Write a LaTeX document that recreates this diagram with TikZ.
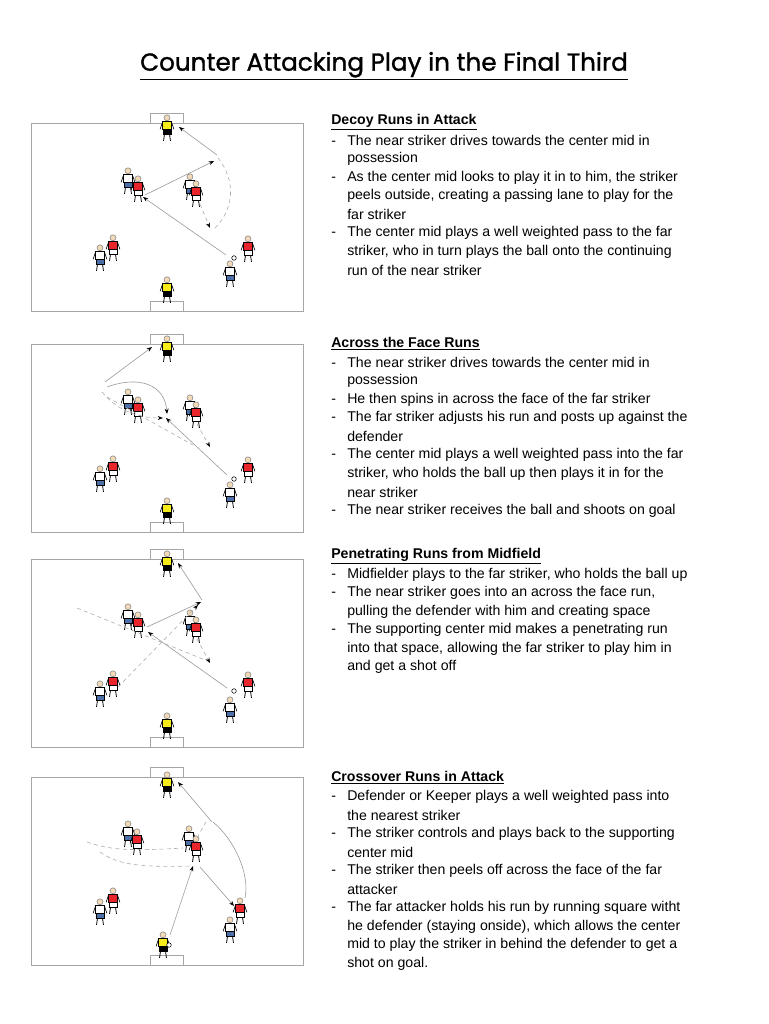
\documentclass[tikz,border=0pt]{standalone}
\usepackage{fontspec}
\setmainfont{Liberation Sans}
\newfontfamily\titlefont[FakeBold=1.2]{Poppins}
\usetikzlibrary{arrows.meta}
\definecolor{skin}{HTML}{F2D9B8}
\definecolor{shirtred}{HTML}{E8252A}
\definecolor{shortblue}{HTML}{4C6FA8}
\definecolor{gkyellow}{HTML}{F5EC1A}
\tikzset{
  pitchline/.style={draw=gray!70,line width=0.6pt},
  run/.style={draw=gray!80,line width=0.45pt,-{Stealth[length=4pt,width=3pt,black]}},
  runn/.style={draw=gray!80,line width=0.45pt},
  drun/.style={draw=gray!65,line width=0.45pt,dash pattern=on 3pt off 2.5pt},
  drunA/.style={drun,-{Stealth[length=4pt,width=3pt,black]}},
  txt/.style={anchor=west,inner sep=0pt,font=\fontsize{10.6pt}{12pt}\selectfont},
  pics/pl/.style 2 args={code={
    \begin{scope}[scale=1.15]
    \draw[black,line width=0.6pt] (-2,5) -- (-3,12) (2,5) -- (3,12);
    \draw[black,line width=0.4pt,fill=#2] (-3.5,2) rectangle (3.5,6);
    \draw[black,line width=0.4pt,fill=#1] (-4,-5) rectangle (4,2);
    \draw[black,line width=0.5pt] (-4,-4) -- (-6,2) (4,-4) -- (6,2);
    \fill[skin,draw=gray] (0,-8) circle (2.6);
    \end{scope}
  }}
}
\newcommand\whiteP[2]{\pic at (#1,#2) {pl={white}{shortblue}};}
\newcommand\redP[2]{\pic at (#1,#2) {pl={shirtred}{white}};}
\newcommand\gkP[2]{\pic at (#1,#2) {pl={gkyellow}{black}};}
\newcommand\pitch[1]{%
  \draw[pitchline] (31,#1) rectangle (303,#1+188);
  \draw[pitchline] (150,#1) -- (150,#1-10) -- (183,#1-10) -- (183,#1);
  \draw[pitchline] (150,#1+188) -- (150,#1+178) -- (183,#1+178) -- (183,#1+188);}
\newcommand\ball[2]{\draw[black,line width=0.4pt,fill=white] (#1,#2) circle (2.3);}
\newcommand\dsh{\makebox[12pt][l]{-}}
\newcommand\ind{\hspace*{12pt}}
\begin{document}
\begin{tikzpicture}[x=0.75pt,y=-0.75pt]
\useasboundingbox (0,0) rectangle (768,1024);
\node[inner sep=0pt,font=\titlefont\fontsize{18.5pt}{21pt}\selectfont] (title) at (384,66) {\underline{Counter Attacking Play in the Final Third}};

% pitch 1
\pitch{123}
\gkP{167}{127} \whiteP{128}{180} \redP{138}{188} \whiteP{190}{186} \redP{196}{193}
\whiteP{100}{257} \redP{113}{247} \redP{248}{248} \whiteP{230}{273} \gkP{167}{289}
\ball{234}{258}
\draw[run] (226,255) -- (143,197);
\draw[run] (145,195) -- (214,161);
\draw[run] (217,155) -- (179,127);
\draw[drun] (218,158) .. controls (236,180) and (235,210) .. (213,230);
\draw[drunA] (200,204) -- (210,228);

% pitch 2
\pitch{344}
\gkP{167}{348} \whiteP{128}{401} \redP{138}{409} \whiteP{190}{407} \redP{196}{414}
\whiteP{100}{478} \redP{113}{468} \redP{248}{469} \whiteP{230}{494} \gkP{167}{510}
\ball{234}{479}
\draw[run] (105,382) -- (152,347);
\draw[run] (107,387) .. controls (140,375) and (165,385) .. (167,414);
\draw[drunA] (102,392) .. controls (115,408) and (135,418) .. (163,418);
\draw[drun] (107,397) -- (193,445);
\draw[run] (227,475) -- (166,418);
\draw[drunA] (197,424) -- (210,447);

% pitch 3
\pitch{559}
\gkP{167}{563} \whiteP{128}{616} \redP{138}{624} \whiteP{190}{622} \redP{196}{629}
\whiteP{100}{693} \redP{113}{683} \redP{248}{684} \whiteP{230}{709} \gkP{167}{725}
\ball{234}{691}
\draw[run] (147,627) -- (201,602);
\draw[run] (202,600) -- (178,563);
\draw[run] (227,688) -- (148,632);
\draw[drun] (77,608) -- (210,662);
\draw[drunA] (118,687) -- (198,605);
\draw[drunA] (197,639) -- (210,663);

% pitch 4
\pitch{777}
\gkP{167}{784} \whiteP{128}{833} \redP{137}{841} \whiteP{189}{838} \redP{196}{848}
\whiteP{100}{911} \redP{113}{900} \redP{240}{910} \whiteP{230}{929} \gkP{163}{944}
\ball{169}{945}
\draw[run] (170,935) -- (193,866);
\draw[run] (200,867) -- (234,906);
\draw[run] (212,822) -- (178,782);
\draw[runn] (213,822) .. controls (235,840) and (250,875) .. (245,898);
\draw[drun] (87,842) .. controls (105,848) and (120,852) .. (183,848);
\draw[drun] (100,852) .. controls (115,862) and (130,868) .. (190,866);
\draw[drun] (197,838) -- (207,820);

% text
\newcommand\sect[3]{%
  \node[txt,font=\bfseries\fontsize{10.6pt}{12pt}\selectfont] at (331,#1) {\underline{#2}};
  \foreach \t [count=\i] in {#3} {
    \node[txt] at (331,#1+\i*18.55) {\t};
  }}
\sect{122}{Decoy Runs in Attack}{{\dsh The near striker drives towards the center mid in},
{\ind possession},
{\dsh As the center mid looks to play it in to him, the striker},
{\ind peels outside, creating a passing lane to play for the},
{\ind far striker},
{\dsh The center mid plays a well weighted pass to the far},
{\ind striker, who in turn plays the ball onto the continuing},
{\ind run of the near striker}}
\sect{344}{Across the Face Runs}{{\dsh The near striker drives towards the center mid in},
{\ind possession},
{\dsh He then spins in across the face of the far striker},
{\dsh The far striker adjusts his run and posts up against the},
{\ind defender},
{\dsh The center mid plays a well weighted pass into the far},
{\ind striker, who holds the ball up then plays it in for the},
{\ind near striker},
{\dsh The near striker receives the ball and shoots on goal}}
\sect{556}{Penetrating Runs from Midfield}{{\dsh Midfielder plays to the far striker, who holds the ball up},
{\dsh The near striker goes into an across the face run,},
{\ind pulling the defender with him and creating space},
{\dsh The supporting center mid makes a penetrating run},
{\ind into that space, allowing the far striker to play him in},
{\ind and get a shot off}}
\sect{778}{Crossover Runs in Attack}{{\dsh Defender or Keeper plays a well weighted pass into},
{\ind the nearest striker},
{\dsh The striker controls and plays back to the supporting},
{\ind center mid},
{\dsh The striker then peels off across the face of the far},
{\ind attacker},
{\dsh The far attacker holds his run by running square witht},
{\ind he defender (staying onside), which allows the center},
{\ind mid to play the striker in behind the defender to get a},
{\ind shot on goal.}}
\end{tikzpicture}
\end{document}
